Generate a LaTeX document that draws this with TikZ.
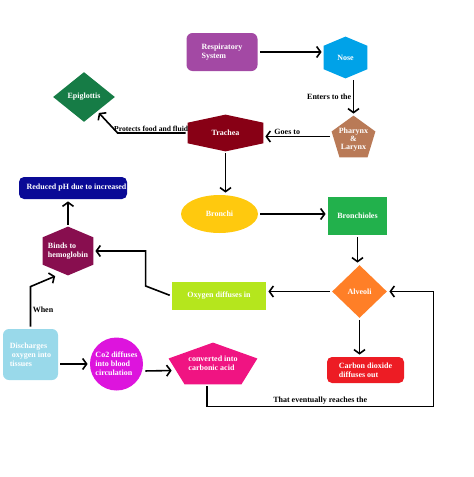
\documentclass[tikz,border=0pt]{standalone}
\usepackage{fontspec}
\setmainfont{Liberation Serif}
\usetikzlibrary{positioning,shapes.geometric,arrows.meta,calc,backgrounds}

\definecolor{respc}{HTML}{A349A4}
\definecolor{nosec}{HTML}{00A2E8}
\definecolor{pharc}{HTML}{B97A57}
\definecolor{trachc}{HTML}{880015}
\definecolor{epic}{RGB}{22,124,70}
\definecolor{bronc}{HTML}{FFC90E}
\definecolor{brolc}{HTML}{22B14C}
\definecolor{alvc}{HTML}{FF7F27}
\definecolor{oxyc}{HTML}{B5E61D}
\definecolor{cotwoc}{HTML}{ED1C24}
\definecolor{phc}{RGB}{10,10,150}
\definecolor{bindc}{HTML}{880E4F}
\definecolor{dischc}{HTML}{99D9EA}
\definecolor{circc}{RGB}{221,20,221}
\definecolor{convc}{RGB}{240,20,130}

% polygons filled from the anchors of a plain node
\newcommand{\hexfill}[2]{\fill[#2] (#1.north) -- ($(#1.north west)!.22!(#1.south west)$) -- ($(#1.north west)!.78!(#1.south west)$) -- (#1.south) -- ($(#1.north east)!.78!(#1.south east)$) -- ($(#1.north east)!.22!(#1.south east)$) -- cycle;}
\newcommand{\pentfill}[2]{\fill[#2] (#1.north) -- ($(#1.north west)!.38!(#1.south west)$) -- ($(#1.south west)!.18!(#1.south east)$) -- ($(#1.south east)!.18!(#1.south west)$) -- ($(#1.north east)!.38!(#1.south east)$) -- cycle;}

\begin{document}
\begin{tikzpicture}[x=1pt, y=-1pt, thick,
    blk/.style={inner sep=0pt, text=white, align=left, font=\bfseries\fontsize{8}{9}\selectfont},
    lbl/.style={inner sep=1.5pt, text=black, font=\bfseries\fontsize{8}{9}\selectfont},
    conn/.style={line width=1.6pt, -{Straight Barb[length=4pt,width=11pt]}, shorten <=2pt, shorten >=2pt}]
  \useasboundingbox (0,0) rectangle (474,477);

  \node [blk, fill=respc, rounded corners=6pt, minimum width=71pt, minimum height=38pt] (resp) at (222,52) {Respiratory\\System};
  \node [blk, minimum width=43pt, minimum height=41pt] (nose) at (345.5,57.5) {Nose};
  \node [blk, minimum width=43pt, minimum height=41pt,
    label={[blk, align=center, yshift=-3pt]center:Pharynx\\[-1pt]\&\\[-1pt]Larynx}] (phar) at (353.5,136.5) {};
  \node [blk, minimum width=75pt, minimum height=36pt] (trach) at (225.5,133) {Trachea};
  \node [blk, diamond, fill=epic, minimum width=62pt, minimum height=50pt] (epi) at (84,97) {Epiglottis};
  \node [blk, ellipse, fill=bronc, minimum width=77pt, minimum height=38pt] (bronchi) at (219.5,214) {Bronchi};
  \node [blk, fill=brolc, minimum width=59pt, minimum height=38pt] (brol) at (357.5,216) {Bronchioles};
  \node [blk, diamond, fill=alvc, minimum width=55pt, minimum height=53pt] (alv) at (359.5,291.5) {Alveoli};
  \node [blk, fill=oxyc, minimum width=94pt, minimum height=28pt] (oxy) at (219,296) {Oxygen diffuses in};
  \node [blk, fill=cotwoc, rounded corners=5pt, minimum width=77pt, minimum height=26pt] (out) at (365.5,370) {Carbon dioxide\\diffuses out};
  \node [blk, fill=phc, rounded corners=5pt, minimum width=108pt, minimum height=22pt,
    path picture={\node [blk, anchor=west] at ([xshift=7pt]path picture bounding box.west) {Reduced pH due to increased C};}] (ph) at (73,188) {};
  \node [blk, minimum width=50pt, minimum height=48pt] (bind) at (68,251) {Binds to\\hemoglobin};
  \node [blk, fill=dischc, rounded corners=6pt, minimum width=55pt, minimum height=51pt] (disch) at (30.5,354.5) {Discharges\\\hspace*{2pt}oxygen into\\tissues};
  \node [blk, circle, fill=circc, minimum size=53pt] (blood) at (116.5,364) {Co2 diffuses\\into blood\\circulation};
  \node [blk, minimum width=88pt, minimum height=41pt] (conv) at (213,363.5) {converted into\\carbonic acid};

  \begin{scope}[on background layer]
    \hexfill{nose}{nosec}
    \hexfill{trach}{trachc}
    \hexfill{bind}{bindc}
    \pentfill{phar}{pharc}
    \pentfill{conv}{convc}
  \end{scope}

  \draw [conn] (resp.east) -- (resp.east -| nose.west);
  \draw [conn] (nose.south -| phar.north) -- node [lbl, left] {Enters to the} (phar.north);
  \draw [conn] (phar.west) -- node [lbl, above, pos=0.65] {Goes to} (phar.west -| trach.east);
  \draw [conn] (trach.west) -- node [lbl, above, pos=0.52, inner sep=1pt, font=\bfseries\fontsize{7.6}{9}\selectfont] {Protects food and fluid} ++(-70,0) -- (epi);
  \draw [conn] (trach.south) -- (trach.south |- bronchi.north);
  \draw [conn] (bronchi.east) -- (bronchi.east -| brol.west);
  \draw [conn] (brol.south) -- (brol.south |- alv.north);
  \draw [conn] (alv.west) -- (alv.west -| oxy.east);
  \draw [conn] (alv.south) -- (alv.south |- out.north);
  \draw [conn] (oxy.west) -- ++(-26,-10) |- (bind.east);
  \draw [conn] (bind.north) -- (bind.north |- ph.south);
  \draw [conn] (disch.north) -- node [lbl, right, pos=0.45] {When} ++(0,-42) -- ([xshift=-11pt]bind.south);
  \draw [conn] (blood.west -| disch.east) -- (blood.west);
  \draw [conn] ([yshift=-7pt]blood.east) -- ($(conv.west)+(5,7)$);
  \draw [conn] ([xshift=-6pt]conv.south) -- ++(0,22) -| node [lbl, above, pos=0.25] {That eventually reaches the} ($(alv.east)+(46,0)$) -- (alv.east);
\end{tikzpicture}
\end{document}
